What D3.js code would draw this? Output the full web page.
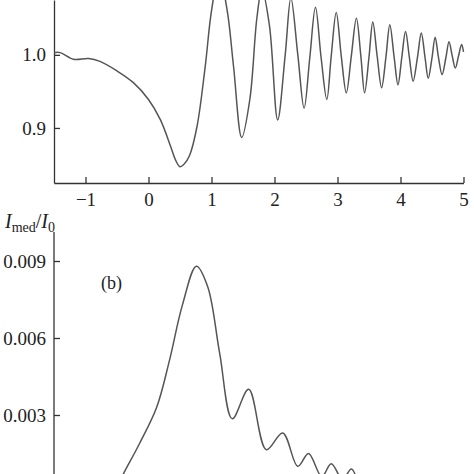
<!DOCTYPE html><html><head><meta charset="utf-8">
<script src="https://d3js.org/d3.v7.min.js"></script>
<style>body{margin:0;background:#fff}text{font-family:"Liberation Serif","Times New Roman",serif}</style></head><body>
<svg id="c" width="474" height="474"></svg>
<script>
const topX=[-1.5,-1.4,-1.19,-0.95,-0.77,-0.5,-0.24,0,0.19,0.35,0.43,0.5,0.56,0.65,0.77,0.9,1.0,1.12,1.25,1.35,1.48,1.61,1.72,1.8,1.92,2.05,2.17,2.26,2.37,2.47,2.56,2.65,2.74,2.83,2.9,2.98,3.06,3.14,3.22,3.3,3.37,3.43,3.5,3.56,3.63,3.7,3.77,3.83,3.9,3.96,4.02,4.08,4.14,4.2,4.27,4.33,4.39,4.44,4.5,4.55,4.6,4.66,4.72,4.77,4.82,4.87,4.92,4.97,5.0];
const topY=[1.003,1.003,0.994,0.995,0.991,0.978,0.962,0.939,0.911,0.875,0.856,0.847,0.85,0.862,0.902,0.984,1.06,1.11,1.06,0.984,0.887,0.94,1.05,1.09,1.04,0.911,1.0,1.078,1.0,0.927,0.996,1.065,0.996,0.939,0.998,1.058,0.998,0.948,0.999,1.05,0.999,0.948,0.997,1.045,0.998,0.955,0.998,1.041,0.996,0.959,0.996,1.032,0.997,0.964,0.997,1.030,0.996,0.968,0.996,1.024,0.998,0.973,0.996,1.018,0.999,0.982,0.998,1.014,1.004];
const botX=[-0.5,-0.4,-0.14,0.13,0.33,0.54,0.76,0.94,1.13,1.33,1.59,1.87,2.13,2.37,2.54,2.75,2.9,3.08,3.22,3.32];
const botY=[0.0002,0.0007,0.0019,0.0033,0.0051,0.0073,0.0088,0.0080,0.0054,0.00285,0.0040,0.00165,0.0023,0.0010,0.0015,0.0006,0.0011,0.0005,0.0009,0.0004];
const topTicksX=[-1,0,1,2,3,4,5], topTicksY=[0.9,1.0], botTicksY=[0.003,0.006,0.009];

const svg=d3.select("#c");
const x=d3.scaleLinear().domain([-1.5,5]).range([54,463.5]);
const y1=d3.scaleLinear().domain([0.8247,1.075]).range([183,0]);
const y2=d3.scaleLinear().domain([0,0.009]).range([492,261]);
const defs=svg.append("defs");
defs.append("clipPath").attr("id","c1").append("rect").attr("x",54).attr("y",0).attr("width",420).attr("height",183);
defs.append("clipPath").attr("id","c2").append("rect").attr("x",54).attr("y",230).attr("width",420).attr("height",244);
const st=g=>{g.attr("font-family","Liberation Serif").attr("font-size",19);g.selectAll("path,line").attr("stroke","#333").attr("stroke-width",1.3);g.selectAll("text").attr("fill","#222");};
svg.append("g").attr("transform","translate(0,183)").call(d3.axisBottom(x).tickValues(topTicksX).tickSizeInner(-6).tickSizeOuter(0).tickPadding(10).tickFormat(d=>d<0?"\u2212"+(-d):d)).call(st);
svg.append("g").attr("transform","translate(54,0)").call(d3.axisLeft(y1).tickValues(topTicksY).tickSizeInner(-6).tickSizeOuter(0).tickPadding(8).tickFormat(d3.format(".1f"))).call(st);
const ga=svg.append("g").attr("transform","translate(54,0)").call(d3.axisLeft(y2).tickValues(botTicksY).tickSizeInner(-6).tickSizeOuter(0).tickPadding(8).tickFormat(d3.format(".3f"))).call(st);
ga.select("path.domain").remove();
svg.append("line").attr("x1",54).attr("x2",54).attr("y1",232).attr("y2",474).attr("stroke","#333").attr("stroke-width",1.3);
const l1=d3.line().x((d,i)=>x(topX[i])).y(d=>y1(d)).curve(d3.curveCatmullRom);
svg.append("path").attr("d",l1(topY)).attr("clip-path","url(#c1)").attr("fill","none").attr("stroke","#555").attr("stroke-width",1.5);
const l2=d3.line().x((d,i)=>x(botX[i])).y(d=>y2(d)).curve(d3.curveCatmullRom);
svg.append("path").attr("d",l2(botY)).attr("clip-path","url(#c2)").attr("fill","none").attr("stroke","#555").attr("stroke-width",1.5);
const lab=svg.append("text").attr("x",5).attr("y",228).attr("font-size",20).attr("fill","#222");
lab.append("tspan").attr("font-style","italic").text("I");
lab.append("tspan").attr("font-size",14).attr("dy",4).text("med");
lab.append("tspan").attr("dy",-4).text("/");
lab.append("tspan").attr("font-style","italic").text("I");
lab.append("tspan").attr("font-size",14).attr("dy",4).text("0");
svg.append("text").attr("x",101).attr("y",289).attr("font-size",18).attr("fill","#222").text("(b)");
</script></body></html>
